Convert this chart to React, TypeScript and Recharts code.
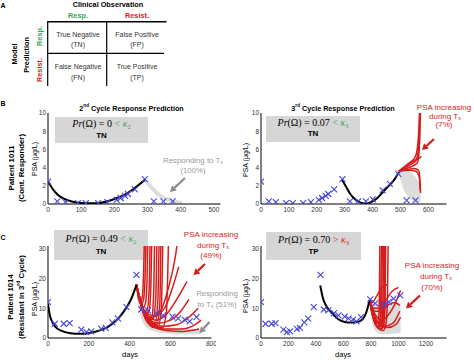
import { ComposedChart, Line, Scatter, Area, XAxis, YAxis } from "recharts";

const BLUE = "#4646dc";
const RED = "#d81c1c";
const GREEN = "#3aa655";
const BAND = "#dcdcdc";
const BOX = "#d6d6d6";
const FONT = "'Liberation Sans', Arial, sans-serif";
const SERIF = "'Liberation Serif', 'DejaVu Serif', serif";

type Pt = [number, number];

// Patient 1011 observed PSA (days, ug/L)
const p1011Days = [0, 28, 53, 90, 114, 151, 179, 207, 219, 232, 241, 262, 292, 319, 348, 376, 401, 436, 462, 492, 522, 554];
const p1011Psa = [2.47, 0.3, 0.2, 0.1, 0.1, 0.1, 0.2, 0.45, 0.66, 0.9, 1.1, 1.6, 2.73, 0.3, 0.3, 0.3, 0.5, 1.5, 2.2, 3.3, 0.4, 0.4];
const p1011Cycle2Obs = 16;

// Patient 1014 observed PSA
const p1014Days = [0, 33, 77, 106, 163, 188, 212, 261, 283, 315, 343, 384, 433, 457, 490, 531, 563, 609, 637, 669, 694, 727, 795, 831, 897, 928, 964, 1013];
const p1014Psa = [12.1, 4.8, 4.8, 5.0, 2.8, 2.0, 2.2, 3.1, 3.4, 5.3, 6.5, 10.4, 21.3, 9.6, 9.3, 8.4, 7.6, 7.2, 6.6, 6.2, 5.6, 7.0, 13.0, 11.7, 11.2, 12.2, 13.3, 14.4];
const p1014Cycle2Obs = 22;

// model fits (black)
const fit1011c2: Pt[] = [[0, 2.5], [15, 1.6], [30, 1.0], [50, 0.55], [75, 0.25], [100, 0.12], [130, 0.08], [160, 0.15], [185, 0.35], [210, 0.7], [240, 1.2], [265, 1.85], [292, 2.65]];
const fit1011c3: Pt[] = [[290, 2.7], [305, 1.9], [320, 1.1], [340, 0.45], [360, 0.12], [378, 0.05], [395, 0.2], [415, 0.6], [438, 1.35], [458, 2.0], [476, 2.6], [494, 3.5]];
const fit1014c2: Pt[] = [[0, 11.5], [8, 8], [20, 5.5], [40, 3.5], [70, 2.3], [110, 1.6], [160, 1.4], [210, 1.8], [250, 2.5], [290, 3.6], [330, 5.6], [370, 8.8], [405, 12.8], [433, 17.8]];
const fit1014c3: Pt[] = [[431, 17.7], [450, 13.5], [475, 10.8], [516, 8.4], [560, 6.4], [610, 5.4], [650, 5.2], [700, 5.4], [730, 6.0], [758, 7.7], [775, 10], [790, 12.8]];

// grey prediction bands (day, low, high)
const band1011c2 = [[292, 2.35, 2.85], [310, 1.6, 2.2], [330, 0.85, 1.45], [350, 0.4, 0.85], [370, 0.15, 0.55], [390, 0.05, 0.4], [405, 0.05, 0.3]];
const band1011c3 = [[494, 3.3, 3.6], [510, 1.7, 3.8], [530, 0.7, 3.6], [550, 0.3, 3.1], [572, 0.2, 2.0]];
const band1014c2 = [[436, 13, 17.5], [460, 6, 12], [490, 3, 7], [530, 2, 4.5], [580, 1.5, 3.5], [640, 1.3, 3], [700, 1.3, 3], [750, 1.3, 2.5]];
const band1014c3 = [[792, 11, 13.5], [810, 5, 12.5], [840, 2, 11.5], [880, 1.3, 11.5], [920, 1.3, 12], [960, 1.5, 12], [1015, 1.8, 12]];

// red predicted trajectories (PSA increasing during Tx)
const red1011c3: Pt[][] = [
  [[494, 3.6], [515, 4.1], [535, 4.6], [552, 5.1], [562, 6.5], [567, 9], [569, 11]],
  [[494, 3.6], [518, 4.0], [540, 4.4], [556, 4.8], [564, 6.0], [568, 8.5], [571, 11]],
  [[494, 3.6], [520, 3.9], [545, 4.2], [560, 4.5], [566, 5.5], [570, 8], [572, 11]],
  [[494, 3.6], [520, 4.2], [545, 4.7], [565, 5.0], [575, 5.2]],
  [[494, 3.6], [525, 3.8], [550, 3.9], [565, 3.7], [570, 2.5], [572, 1.2]],
  [[494, 3.6], [530, 3.7], [555, 3.6], [567, 3.0], [571, 1.5]],
];
const red1014c2: Pt[][] = [
  [[433, 18], [442, 14], [452, 12], [462, 14], [468, 22], [472, 33]],
  [[433, 18], [445, 13], [458, 11.5], [468, 13], [475, 20], [480, 33]],
  [[433, 18], [448, 13], [465, 10], [478, 12], [485, 20], [489, 33]],
  [[433, 18], [452, 12], [470, 9], [487, 10], [496, 18], [500, 33]],
  [[433, 18], [455, 11], [478, 8], [495, 9], [504, 18], [508, 33]],
  [[433, 18], [460, 10], [490, 6.5], [508, 7], [518, 16], [522, 33]],
  [[433, 18], [462, 9.5], [495, 6], [515, 6.5], [528, 14], [533, 33]],
  [[433, 18], [465, 9], [500, 5], [525, 5], [538, 13], [544, 33]],
  [[433, 18], [468, 8.5], [505, 5], [532, 4.5], [547, 11], [553, 33]],
  [[433, 18], [470, 8], [510, 4.5], [540, 4], [555, 10], [562, 33]],
  [[433, 18], [475, 7], [520, 3.5], [560, 3.5], [580, 9], [590, 33]],
  [[433, 18], [470, 9], [510, 7], [550, 9], [590, 17], [625, 28], [635, 33]],
  [[433, 18], [475, 9], [520, 7.5], [570, 10], [610, 17], [640, 24]],
  [[433, 18], [480, 8], [530, 6], [580, 8], [630, 13], [680, 19]],
  [[433, 18], [485, 7], [540, 5], [600, 6], [650, 9], [690, 13]],
  [[433, 18], [490, 6], [560, 4], [630, 4.5], [690, 7], [735, 10]],
  [[433, 18], [490, 5], [570, 3], [650, 3], [720, 4.5], [750, 6]],
  [[433, 18], [500, 4.5], [580, 2.5], [660, 2.2], [740, 3]],
];
const red1014c3: Pt[][] = [
  [[790, 12.8], [810, 8], [830, 5], [850, 4], [865, 6], [872, 15], [876, 33]],
  [[790, 12.8], [812, 7.5], [835, 4.5], [855, 3.8], [870, 6], [879, 15], [883, 33]],
  [[790, 12.8], [815, 7], [840, 4], [860, 3.5], [880, 6], [888, 15], [892, 33]],
  [[790, 12.8], [818, 6.8], [845, 3.8], [868, 3.2], [887, 6], [896, 15], [900, 33]],
  [[790, 12.8], [820, 6.5], [850, 3.5], [875, 3], [895, 6], [903, 16], [907, 33]],
  [[790, 12.8], [805, 9], [825, 6], [845, 5], [858, 8], [862, 18], [865, 33]],
  [[790, 12.8], [825, 6], [860, 3], [890, 2.5], [910, 5], [920, 14], [925, 33]],
  [[790, 12.8], [845, 4], [870, 3], [893, 4], [900, 10], [903, 33]],
  [[790, 12.8], [830, 8], [880, 6], [930, 8], [980, 12], [1015, 16]],
  [[790, 12.8], [840, 6], [900, 4], [960, 5], [1010, 9]],
  [[790, 12.8], [820, 10], [860, 10], [910, 13], [960, 16], [1000, 17]],
  [[790, 12.8], [850, 5], [920, 3.5], [980, 4.5], [1015, 7]],
  [[790, 12.8], [830, 9], [870, 9], [920, 11], [970, 12], [1010, 11]],
  [[790, 12.8], [810, 12], [840, 14], [880, 17], [920, 18]],
];

const YW = 20;
const XH = 14;
const MT = 6;
const MR = 4;

const toXY = (pts: Pt[]) => pts.map(([x, y]) => ({ x, y }));

const XMark = (props: any) => {
  const { cx, cy } = props;
  const s = 3;
  return (
    <path
      d={`M${cx - s},${cy - s}L${cx + s},${cy + s}M${cx - s},${cy + s}L${cx + s},${cy - s}`}
      stroke={BLUE}
      strokeWidth={1.1}
      fill="none"
    />
  );
};

interface PlotProps {
  x0: number;
  x1: number;
  y0: number;
  y1: number;
  xMax: number;
  xTicks: number[];
  yMax: number;
  yTicks: number[];
  days: number[];
  psa: number[];
  fit: Pt[];
  band: number[][];
  red?: Pt[][];
}

function Plot(p: PlotProps) {
  const left = p.x0 - YW;
  const top = p.y0 - MT;
  const width = p.x1 - left + MR;
  const height = p.y1 - top + XH;
  const obs = p.days.map((d, i) => ({ x: d, y: p.psa[i] }));
  const band = p.band.map(([x, lo, hi]) => ({ x, r: [lo, hi] }));
  const tick = { fontSize: 6.5, fill: "#333", fontFamily: FONT };
  return (
    <div style={{ position: "absolute", left, top }}>
      <ComposedChart width={width} height={height} margin={{ top: MT, right: MR, bottom: 0, left: 0 }}>
        <XAxis
          type="number"
          dataKey="x"
          domain={[0, p.xMax]}
          ticks={p.xTicks}
          interval={0}
          allowDataOverflow
          height={XH}
          tickSize={2}
          tickMargin={1}
          tickLine={false}
          axisLine={{ stroke: "#000", strokeWidth: 1 }}
          tick={tick}
        />
        <YAxis
          type="number"
          domain={[0, p.yMax]}
          ticks={p.yTicks}
          interval={0}
          allowDataOverflow
          width={YW}
          tickSize={1}
          tickMargin={1}
          tickLine={false}
          axisLine={{ stroke: "#000", strokeWidth: 1 }}
          tick={tick}
        />
        <Area data={band} dataKey="r" type="monotone" stroke="none" fill={BAND} fillOpacity={1} isAnimationActive={false} />
        {(p.red || []).map((path, i) => (
          <Line key={i} data={toXY(path)} dataKey="y" type="monotone" stroke={RED} strokeWidth={1.5} dot={false} isAnimationActive={false} />
        ))}
        <Line data={toXY(p.fit)} dataKey="y" type="monotone" stroke="#000" strokeWidth={2} dot={false} isAnimationActive={false} />
        <Scatter data={obs} dataKey="y" shape={XMark} isAnimationActive={false} />
      </ComposedChart>
    </div>
  );
}

function Txt(props: { x: number; y: number; size?: number; color?: string; bold?: boolean; rotate?: number; family?: string; children: any }) {
  const { x, y, size = 8, color = "#000", bold = false, rotate = 0, family = FONT, children } = props;
  return (
    <div
      style={{
        position: "absolute",
        left: x,
        top: y,
        transform: `translate(-50%,-50%) rotate(${rotate}deg)`,
        fontSize: size,
        color,
        fontWeight: bold ? 700 : 400,
        fontFamily: family,
        whiteSpace: "nowrap",
        lineHeight: 1,
      }}
    >
      {children}
    </div>
  );
}

const Tx = () => (
  <span>
    T<span style={{ fontSize: "0.7em", verticalAlign: "-0.2em" }}>x</span>
  </span>
);

function Prob({ x, y, value, sign, k, color }: { x: number; y: number; value: string; sign: string; k: string; color: string }) {
  return (
    <Txt x={x} y={y} size={10} family={SERIF}>
      <i>Pr</i>(Ω) = {value} <span style={{ color }}>{sign} <i>κ</i><span style={{ fontSize: "0.65em", verticalAlign: "-0.25em" }}>{k}</span></span>
    </Txt>
  );
}

function Box({ x, y, w, h }: { x: number; y: number; w: number; h: number }) {
  return <div style={{ position: "absolute", left: x, top: y, width: w, height: h, background: BOX }} />;
}

function Arrow({ x1, y1, x2, y2, color }: { x1: number; y1: number; x2: number; y2: number; color: string }) {
  const dx = x2 - x1;
  const dy = y2 - y1;
  const len = Math.hypot(dx, dy);
  const ux = dx / len;
  const uy = dy / len;
  const hl = 6;
  const hw = 3.5;
  const bx = x2 - ux * hl;
  const by = y2 - uy * hl;
  return (
    <g>
      <line x1={x1} y1={y1} x2={bx} y2={by} stroke={color} strokeWidth={2.2} />
      <polygon points={`${x2},${y2} ${bx - uy * hw},${by + ux * hw} ${bx + uy * hw},${by - ux * hw}`} fill={color} />
    </g>
  );
}

export default function App() {
  const bTicks = [0, 2, 4, 6, 8, 10];
  const cTicks = [0, 10, 20, 30];
  return (
    <div style={{ position: "absolute", left: 0, top: 0, width: 474, height: 360, background: "#fff", overflow: "hidden", fontFamily: FONT }}>
      {/* panel A: confusion table */}
      <Txt x={3} y={5} size={7} bold>A</Txt>
      <Txt x={108} y={5} size={7.3} bold>Clinical Observation</Txt>
      <Txt x={78} y={16} size={7.3} bold color={GREEN}>Resp.</Txt>
      <Txt x={137} y={16} size={7.3} bold color={RED}>Resist.</Txt>
      <Txt x={15} y={54} size={7.3} bold rotate={-90}>Model</Txt>
      <Txt x={26.5} y={55} size={7.3} bold rotate={-90}>Prediction</Txt>
      <Txt x={39.5} y={36} size={7.3} bold rotate={-90} color={GREEN}>Resp.</Txt>
      <Txt x={39.5} y={70} size={7.3} bold rotate={-90} color={RED}>Resist.</Txt>
      <Txt x={78} y={33.5} size={7} color="#333">True Negative</Txt>
      <Txt x={78} y={44} size={7} color="#333">(TN)</Txt>
      <Txt x={137} y={33.5} size={7} color="#333">False Positive</Txt>
      <Txt x={137} y={44} size={7} color="#333">(FP)</Txt>
      <Txt x={78} y={66} size={7} color="#333">False Negative</Txt>
      <Txt x={78} y={76.5} size={7} color="#333">(FN)</Txt>
      <Txt x={137} y={66} size={7} color="#333">True Positive</Txt>
      <Txt x={137} y={76.5} size={7} color="#333">(TP)</Txt>

      {/* panel labels */}
      <Txt x={3} y={103} size={7} bold>B</Txt>
      <Txt x={3} y={237} size={7} bold>C</Txt>
      <Txt x={11.5} y={168} size={7.8} bold rotate={-90}>Patient 1011</Txt>
      <Txt x={21.5} y={168} size={7.8} bold rotate={-90}>(Cont. Responder)</Txt>
      <Txt x={10.5} y={297} size={7.8} bold rotate={-90}>Patient 1014</Txt>
      <Txt x={20.5} y={297} size={7.8} bold rotate={-90}>
        (Resistant in 3<sup style={{ fontSize: "0.65em" }}>rd</sup> Cycle)
      </Txt>

      <Txt x={131.5} y={107.5} size={7.2} bold>
        2<sup style={{ fontSize: "0.65em" }}>nd</sup> Cycle Response Prediction
      </Txt>
      <Txt x={343} y={107.5} size={7.2} bold>
        3<sup style={{ fontSize: "0.65em" }}>rd</sup> Cycle Response Prediction
      </Txt>

      {/* grey boxes */}
      <Box x={55} y={117} w={93} h={26} />
      <Box x={266} y={116} w={94} h={26} />
      <Box x={54} y={230} w={94} h={30} />
      <Box x={266} y={231.5} w={95} h={28.5} />

      <Plot x0={47.5} x1={220} y0={112.5} y1={203.5} xMax={520} xTicks={[0, 100, 200, 300, 400, 500]} yMax={10} yTicks={bTicks}
        days={p1011Days.slice(0, p1011Cycle2Obs)} psa={p1011Psa.slice(0, p1011Cycle2Obs)} fit={fit1011c2} band={band1011c2} />
      <Plot x0={260.5} x1={446} y0={112.5} y1={203.5} xMax={665} xTicks={[0, 100, 200, 300, 400, 500, 600]} yMax={10} yTicks={bTicks}
        days={p1011Days} psa={p1011Psa} fit={fit1011c3} band={band1011c3} red={red1011c3} />
      <Plot x0={48.3} x1={211.7} y0={245.5} y1={337.5} xMax={800} xTicks={[0, 200, 400, 600, 800]} yMax={31} yTicks={cTicks}
        days={p1014Days.slice(0, p1014Cycle2Obs)} psa={p1014Psa.slice(0, p1014Cycle2Obs)} fit={fit1014c2} band={band1014c2} red={red1014c2} />
      <Plot x0={260.7} x1={446.3} y0={245.5} y1={337.5} xMax={1350} xTicks={[0, 200, 400, 600, 800, 1000, 1200]} yMax={31} yTicks={cTicks}
        days={p1014Days} psa={p1014Psa} fit={fit1014c3} band={band1014c3} red={red1014c3} />

      {/* box contents */}
      <Prob x={101.5} y={124.5} value="0" sign="<" k="2" color={GREEN} />
      <Txt x={101.5} y={135.5} size={8} bold>TN</Txt>
      <Prob x={313} y={123.5} value="0.07" sign="<" k="3" color={GREEN} />
      <Txt x={313} y={134} size={8} bold>TN</Txt>
      <Prob x={101} y={240} value="0.49" sign="<" k="2" color={GREEN} />
      <Txt x={101} y={251.5} size={8} bold>TN</Txt>
      <Prob x={313.5} y={240.5} value="0.70" sign=">" k="3" color={RED} />
      <Txt x={313.5} y={251.5} size={8} bold>TP</Txt>

      {/* axis titles */}
      <Txt x={33.5} y={159} size={7} rotate={-90}>PSA (μg/L)</Txt>
      <Txt x={245} y={160} size={7} rotate={-90}>PSA (μg/L)</Txt>
      <Txt x={33.5} y={299} size={7} rotate={-90}>PSA (μg/L)</Txt>
      <Txt x={245} y={296} size={7} rotate={-90}>PSA (μg/L)</Txt>
      <Txt x={130} y={354.5} size={7.5}>days</Txt>
      <Txt x={343} y={354.5} size={7.5}>days</Txt>

      {/* annotations */}
      <Txt x={193} y={160.5} size={7.8} color="#9a9a9a">Responding to <Tx /></Txt>
      <Txt x={193} y={170.5} size={7.8} color="#9a9a9a">(100%)</Txt>
      <Txt x={444} y={107.5} size={8} color={RED}>PSA increasing</Txt>
      <Txt x={445} y={116.5} size={8} color={RED}>during <Tx /></Txt>
      <Txt x={444} y={125} size={8} color={RED}>(7%)</Txt>
      <Txt x={211} y={235} size={8} color={RED}>PSA increasing</Txt>
      <Txt x={213} y={245.5} size={8} color={RED}>during <Tx /></Txt>
      <Txt x={211} y={256} size={8} color={RED}>(49%)</Txt>
      <Txt x={217} y={293.5} size={7.8} color="#9a9a9a">Responding</Txt>
      <Txt x={217} y={305} size={7.8} color="#9a9a9a">to <Tx /> (51%)</Txt>
      <Txt x={432} y={265.5} size={8} color={RED}>PSA increasing</Txt>
      <Txt x={436} y={277} size={8} color={RED}>during <Tx /></Txt>
      <Txt x={432} y={288} size={8} color={RED}>(70%)</Txt>

      <svg width={474} height={360} style={{ position: "absolute", left: 0, top: 0, pointerEvents: "none" }}>
        {/* table rules */}
        <line x1={47.5} y1={21.7} x2={166.5} y2={21.7} stroke="#000" strokeWidth={1.4} />
        <line x1={47.5} y1={53.3} x2={164} y2={53.3} stroke="#000" strokeWidth={1.2} />
        <line x1={47.7} y1={21} x2={47.7} y2={86} stroke="#000" strokeWidth={1.2} />
        <line x1={106.7} y1={21} x2={106.7} y2={86} stroke="#000" strokeWidth={1.2} />
        <Arrow x1={185} y1={178} x2={170} y2={192} color="#8c8c8c" />
        <Arrow x1={434} y1={139} x2={422} y2={150} color={RED} />
        <Arrow x1={205} y1={264} x2={193.5} y2={275} color={RED} />
        <Arrow x1={209.5} y1={322} x2={199.5} y2={333} color="#8c8c8c" />
        <Arrow x1={420} y1={295.5} x2={406} y2={308.5} color={RED} />
      </svg>
    </div>
  );
}
